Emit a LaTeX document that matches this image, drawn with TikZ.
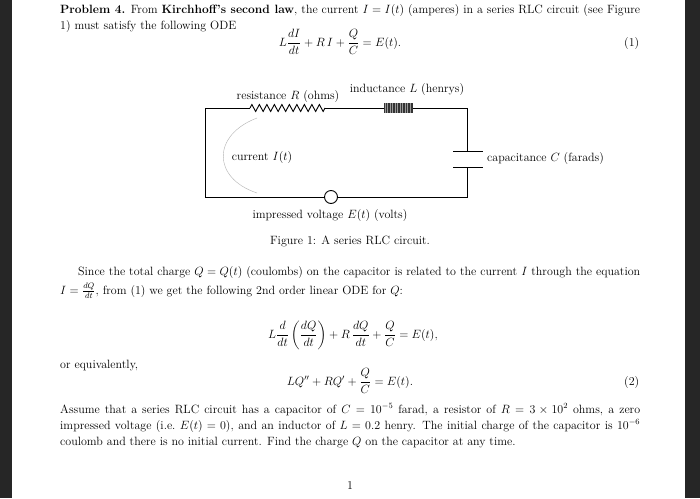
\documentclass[tikz,border=0pt]{standalone}
\usepackage{amsmath}
\usetikzlibrary{decorations.pathmorphing}
\begin{document}
\begin{tikzpicture}[x=1pt,y=-1pt,
  txt/.style={anchor=base west,inner sep=0pt,font=\fontsize{12}{14}\selectfont},
  ctxt/.style={anchor=base,inner sep=0pt,font=\fontsize{12}{14}\selectfont},
  wire/.style={line width=0.9pt}]
\useasboundingbox (0,0) rectangle (700,498);
\fill[white] (0,0) rectangle (700,498);
\fill[black!85] (0,0) rectangle (12,498);
\fill[black!85] (685,0) rectangle (700,498);
% top text
\node[txt] (l1) at (60,13) {\hbox to 580pt{\textbf{Problem 4.} From \textbf{Kirchhoff's second law}, the current $I=I(t)$ (amperes) in a series RLC circuit (see Figure}};
\node[txt] (l2) at (60,29) {1) must satisfy the following ODE};
\node[ctxt] (e1) at (340,46) {$\displaystyle L\frac{dI}{dt}+R\,I+\frac{Q}{C}=E(t).$};
\node[txt] (n1) at (624,46) {(1)};
% circuit
\coordinate (tl) at (205,108); \coordinate (tr) at (467,108);
\coordinate (bl) at (205,197); \coordinate (br) at (467,197);
\coordinate (r1) at (250,108); \coordinate (r2) at (325,108);
\coordinate (i1) at (384,108); \coordinate (i2) at (413,108);
\coordinate (c1) at (467,151); \coordinate (c2) at (467,167);
\node[circle,draw,line width=0.9pt,minimum size=13pt,inner sep=0pt] (src) at (331,197) {};
\draw[wire] (r1) -- (tl) -- (bl) -- (src.west);
\draw[wire] (src.east) -- (br) -- (c2);
\draw[wire] (c1) -- (tr) -- (i2);
\draw[wire] (i1) -- (r2);
\draw[wire,decorate,decoration={zigzag,segment length=7.5pt,amplitude=3.5pt}] (r1) -- (r2);
\fill[black!80] (384,103) rectangle (413,113);
\foreach \k in {385,387.5,...,412} \draw[white!60!black,line width=0.4pt] (\k,103) -- (\k,113);
\draw[wire] (453,151) -- (483,151);
\draw[wire] (453,167) -- (483,167);
\coordinate (a1) at (257,118); \coordinate (a2) at (257,193);
\draw[black!30] (a1) .. controls (212,135) and (212,178) .. (a2);
\node[ctxt] (lr) at (288,99) {resistance $R$ (ohms)};
\node[ctxt] (li) at (407,92) {inductance $L$ (henrys)};
\node[ctxt] (lc) at (262,160) {current $I(t)$};
\node[txt] (lcap) at (487,161) {capacitance $C$ (farads)};
\node[ctxt] (lv) at (330,218) {impressed voltage $E(t)$ (volts)};
\node[ctxt] (cap) at (350,244) {Figure 1: A series RLC circuit.};
% bottom text
\node[txt] (l3) at (78,275) {\hbox to 562pt{Since the total charge $Q=Q(t)$ (coulombs) on the capacitor is related to the current $I$ through the equation}};
\node[txt] (l4) at (60,294) {$I=\frac{dQ}{dt}$, from (1) we get the following 2nd order linear ODE for $Q$:};
\node[ctxt] (e2) at (353,338) {$\displaystyle L\frac{d}{dt}\left(\frac{dQ}{dt}\right)+R\,\frac{dQ}{dt}+\frac{Q}{C}=E(t),$};
\node[txt] (l5) at (60,368) {or equivalently,};
\node[ctxt] (e3) at (350,385) {$\displaystyle LQ''+RQ'+\frac{Q}{C}=E(t).$};
\node[txt] (n2) at (624,385) {(2)};
\node[txt] (p1) at (60,413) {\hbox to 580pt{Assume that a series RLC circuit has a capacitor of $C=10^{-5}$ farad, a resistor of $R=3\times10^2$ ohms, a zero}};
\node[txt] (p2) at (60,429) {\hbox to 580pt{impressed voltage (i.e.\ $E(t)=0$), and an inductor of $L=0.2$ henry. The initial charge of the capacitor is $10^{-6}$}};
\node[txt] (p3) at (60,445) {coulomb and there is no initial current. Find the charge $Q$ on the capacitor at any time.};
\node[ctxt] (pg) at (350,489) {1};
\end{tikzpicture}
\end{document}
